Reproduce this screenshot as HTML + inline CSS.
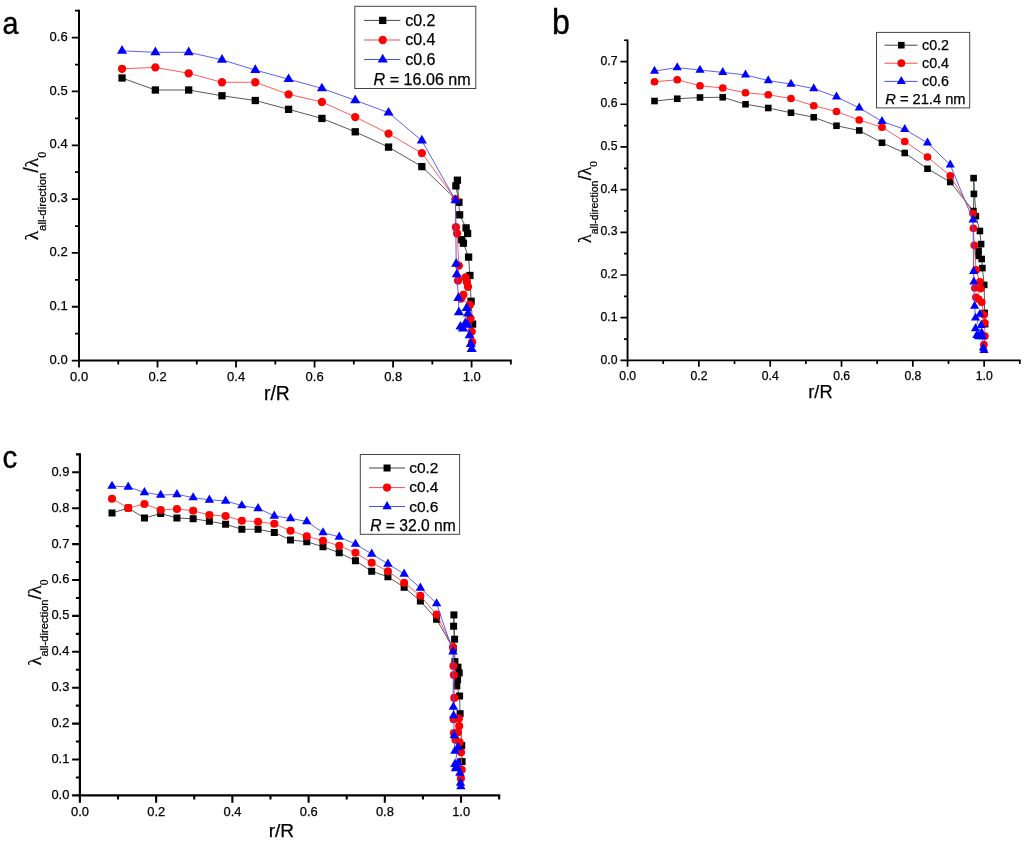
<!DOCTYPE html>
<html lang="en">
<head>
<meta charset="utf-8">
<title>Normalized thermal conductivity versus r/R</title>
<style>
html,body{margin:0;padding:0;background:#fff;}
body{width:1024px;height:843px;overflow:hidden;}
svg{display:block;font-family:"Liberation Sans", Arial, sans-serif;}
</style>
</head>
<body>
<svg width="1024" height="843" viewBox="0 0 1024 843">
<rect width="1024" height="843" fill="#fff"/>
<g id="panel-a">
<polyline fill="none" stroke="#444444" stroke-width="0.9" points="122.05,78 155.36,90 188.67,90 221.98,95.75 255.29,100.5 288.6,109.35 321.91,118.45 355.22,131.8 388.53,147.1 421.84,166.6 458.9,202.3 455.9,185.9 457.4,180.2 459.6,214.8 466.1,227.9 467.6,233.5 461.8,239.7 463.4,243.2 468.6,257.1 469.9,275.5 471.1,301.3 472.6,324.1"/>
<g fill="#000000"><rect x="118.4" y="74.35" width="7.3" height="7.3"/><rect x="151.71" y="86.35" width="7.3" height="7.3"/><rect x="185.02" y="86.35" width="7.3" height="7.3"/><rect x="218.33" y="92.1" width="7.3" height="7.3"/><rect x="251.64" y="96.85" width="7.3" height="7.3"/><rect x="284.95" y="105.7" width="7.3" height="7.3"/><rect x="318.26" y="114.8" width="7.3" height="7.3"/><rect x="351.57" y="128.15" width="7.3" height="7.3"/><rect x="384.88" y="143.45" width="7.3" height="7.3"/><rect x="418.19" y="162.95" width="7.3" height="7.3"/><rect x="455.25" y="198.65" width="7.3" height="7.3"/><rect x="452.25" y="182.25" width="7.3" height="7.3"/><rect x="453.75" y="176.55" width="7.3" height="7.3"/><rect x="455.95" y="211.15" width="7.3" height="7.3"/><rect x="462.45" y="224.25" width="7.3" height="7.3"/><rect x="463.95" y="229.85" width="7.3" height="7.3"/><rect x="458.15" y="236.05" width="7.3" height="7.3"/><rect x="459.75" y="239.55" width="7.3" height="7.3"/><rect x="464.95" y="253.45" width="7.3" height="7.3"/><rect x="466.25" y="271.85" width="7.3" height="7.3"/><rect x="467.45" y="297.65" width="7.3" height="7.3"/><rect x="468.95" y="320.45" width="7.3" height="7.3"/></g>
<polyline fill="none" stroke="#ff4848" stroke-width="0.9" points="122.05,68.8 155.36,67.4 188.67,73.3 221.98,82.25 255.29,82.25 288.6,94.35 321.91,101.95 355.22,117.05 388.53,133.6 421.84,153.1 455.5,199.2 455.9,227.2 457.1,233.5 458.9,265.6 458,280.5 465.5,277.4 466.7,281.8 468,286.8 463.4,294.8 461,298.6 469.9,304.8 470.5,318.5 471.7,331.6 472.1,342.2"/>
<g fill="#ff0000"><circle cx="122.05" cy="68.8" r="4.15"/><circle cx="155.36" cy="67.4" r="4.15"/><circle cx="188.67" cy="73.3" r="4.15"/><circle cx="221.98" cy="82.25" r="4.15"/><circle cx="255.29" cy="82.25" r="4.15"/><circle cx="288.6" cy="94.35" r="4.15"/><circle cx="321.91" cy="101.95" r="4.15"/><circle cx="355.22" cy="117.05" r="4.15"/><circle cx="388.53" cy="133.6" r="4.15"/><circle cx="421.84" cy="153.1" r="4.15"/><circle cx="455.5" cy="199.2" r="4.15"/><circle cx="455.9" cy="227.2" r="4.15"/><circle cx="457.1" cy="233.5" r="4.15"/><circle cx="458.9" cy="265.6" r="4.15"/><circle cx="458" cy="280.5" r="4.15"/><circle cx="465.5" cy="277.4" r="4.15"/><circle cx="466.7" cy="281.8" r="4.15"/><circle cx="468" cy="286.8" r="4.15"/><circle cx="463.4" cy="294.8" r="4.15"/><circle cx="461" cy="298.6" r="4.15"/><circle cx="469.9" cy="304.8" r="4.15"/><circle cx="470.5" cy="318.5" r="4.15"/><circle cx="471.7" cy="331.6" r="4.15"/><circle cx="472.1" cy="342.2" r="4.15"/></g>
<polyline fill="none" stroke="#4c4cff" stroke-width="0.9" points="122.05,50.85 155.36,52.3 188.67,52.3 221.98,59.8 255.29,70.05 288.6,79.2 321.91,88.4 355.22,100.3 388.53,112.7 421.84,140.6 455.5,200.3 456.2,263.8 456.8,274.4 458.4,298 458.9,312.4 466.7,308 468,313.7 460.5,326.7 463,328.6 465.5,323.6 467.4,324.8 469.6,335.4 470.8,344.1 471.7,349.1"/>
<g fill="#0000ff"><polygon points="122.05,45.1 127.1,53.75 117,53.75"/><polygon points="155.36,46.55 160.41,55.2 150.31,55.2"/><polygon points="188.67,46.55 193.72,55.2 183.62,55.2"/><polygon points="221.98,54.05 227.03,62.7 216.93,62.7"/><polygon points="255.29,64.3 260.34,72.95 250.24,72.95"/><polygon points="288.6,73.45 293.65,82.1 283.55,82.1"/><polygon points="321.91,82.65 326.96,91.3 316.86,91.3"/><polygon points="355.22,94.55 360.27,103.2 350.17,103.2"/><polygon points="388.53,106.95 393.58,115.6 383.48,115.6"/><polygon points="421.84,134.85 426.89,143.5 416.79,143.5"/><polygon points="455.5,194.55 460.55,203.2 450.45,203.2"/><polygon points="456.2,258.05 461.25,266.7 451.15,266.7"/><polygon points="456.8,268.65 461.85,277.3 451.75,277.3"/><polygon points="458.4,292.25 463.45,300.9 453.35,300.9"/><polygon points="458.9,306.65 463.95,315.3 453.85,315.3"/><polygon points="466.7,302.25 471.75,310.9 461.65,310.9"/><polygon points="468,307.95 473.05,316.6 462.95,316.6"/><polygon points="460.5,320.95 465.55,329.6 455.45,329.6"/><polygon points="463,322.85 468.05,331.5 457.95,331.5"/><polygon points="465.5,317.85 470.55,326.5 460.45,326.5"/><polygon points="467.4,319.05 472.45,327.7 462.35,327.7"/><polygon points="469.6,329.65 474.65,338.3 464.55,338.3"/><polygon points="470.8,338.35 475.85,347 465.75,347"/><polygon points="471.7,343.35 476.75,352 466.65,352"/></g>
<g stroke="#000" fill="none" stroke-linecap="butt">
<path stroke-width="2" d="M79 9.81 V360.6 H511.76"/>
<path stroke-width="1.8" d="M79 360.6h-7.2M79 333.69h-4M79 306.77h-7.2M79 279.86h-4M79 252.94h-7.2M79 226.03h-4M79 199.11h-7.2M79 172.2h-4M79 145.28h-7.2M79 118.37h-4M79 91.45h-7.2M79 64.54h-4M79 37.62h-7.2M79 10.71h-4M79 360.6v7M118.26 360.6v4M157.52 360.6v7M196.78 360.6v4M236.04 360.6v7M275.3 360.6v4M314.56 360.6v7M353.82 360.6v4M393.08 360.6v7M432.34 360.6v4M471.6 360.6v7M510.86 360.6v4"/>
</g>
<g font-size="13" fill="#000" stroke="#000" stroke-width="0.25">
<text x="67.7" y="363.7" text-anchor="end">0.0</text>
<text x="67.7" y="309.87" text-anchor="end">0.1</text>
<text x="67.7" y="256.04" text-anchor="end">0.2</text>
<text x="67.7" y="202.21" text-anchor="end">0.3</text>
<text x="67.7" y="148.38" text-anchor="end">0.4</text>
<text x="67.7" y="94.55" text-anchor="end">0.5</text>
<text x="67.7" y="40.72" text-anchor="end">0.6</text>
<text x="79.1" y="381.3" text-anchor="middle">0.0</text>
<text x="157.62" y="381.3" text-anchor="middle">0.2</text>
<text x="236.14" y="381.3" text-anchor="middle">0.4</text>
<text x="314.66" y="381.3" text-anchor="middle">0.6</text>
<text x="393.18" y="381.3" text-anchor="middle">0.8</text>
<text x="471.7" y="381.3" text-anchor="middle">1.0</text>
</g>
<text x="264.1" y="400" font-size="19.3" fill="#000" stroke="#000" stroke-width="0.25">r/R</text>
<text transform="translate(38.3 240.3) rotate(-90)" font-size="19.4" fill="#000" stroke="#000" stroke-width="0.25"><tspan font-family='"Liberation Serif", "Times New Roman", serif'>λ</tspan><tspan font-size="11.4" dy="7.9">all-direction</tspan><tspan font-size="19.4" dy="-7.9">/</tspan><tspan font-family='"Liberation Serif", "Times New Roman", serif'>λ</tspan><tspan font-family='"Liberation Serif", "Times New Roman", serif' font-size="12.2" dy="7.2">0</tspan></text>
<rect x="354.8" y="6.3" width="121" height="82.2" fill="#fff" stroke="#444" stroke-width="1"/>
<line x1="364" y1="20.4" x2="400.3" y2="20.4" stroke="#444444" stroke-width="1"/>
<g fill="#000000"><rect x="379.05" y="16.75" width="7.3" height="7.3"/></g>
<text x="405.2" y="25.9" font-size="16" fill="#000" stroke="#000" stroke-width="0.25">c0.2</text>
<line x1="364" y1="40" x2="400.3" y2="40" stroke="#ff4848" stroke-width="1"/>
<g fill="#ff0000"><circle cx="382.7" cy="40" r="4.15"/></g>
<text x="405.2" y="45.4" font-size="16" fill="#000" stroke="#000" stroke-width="0.25">c0.4</text>
<line x1="364" y1="59.5" x2="400.3" y2="59.5" stroke="#4c4cff" stroke-width="1"/>
<g fill="#0000ff"><polygon points="382.7,53.75 387.75,62.4 377.65,62.4"/></g>
<text x="405.2" y="65.1" font-size="16" fill="#000" stroke="#000" stroke-width="0.25">c0.6</text>
<text x="373.6" y="85.2" font-size="16.1" fill="#000" stroke="#000" stroke-width="0.25"><tspan font-style="italic">R</tspan> = 16.06 nm</text>
<text transform="translate(2.6 33.7) scale(0.91 1)" font-size="31.5" fill="#000" stroke="#000" stroke-width="0.4">a</text>
</g>
<g id="panel-b">
<polyline fill="none" stroke="#444444" stroke-width="0.9" points="654.5,101 677.25,98.75 700,97.5 722.75,97.25 745.5,104.25 768.25,108 791,112.75 813.75,117.25 836.5,125.75 859.25,130.5 882,142.75 904.75,153 927.5,168.75 950.25,182 973.4,211.1 973.9,193.9 973.6,178.1 975.9,216.1 979.9,231 981.1,244.1 978.6,250.9 978.4,255.9 981.7,259 982.4,268.1 984.2,284.9 984.6,312.9 985.1,324.1"/>
<g fill="#000000"><rect x="651.2" y="97.7" width="6.6" height="6.6"/><rect x="673.95" y="95.45" width="6.6" height="6.6"/><rect x="696.7" y="94.2" width="6.6" height="6.6"/><rect x="719.45" y="93.95" width="6.6" height="6.6"/><rect x="742.2" y="100.95" width="6.6" height="6.6"/><rect x="764.95" y="104.7" width="6.6" height="6.6"/><rect x="787.7" y="109.45" width="6.6" height="6.6"/><rect x="810.45" y="113.95" width="6.6" height="6.6"/><rect x="833.2" y="122.45" width="6.6" height="6.6"/><rect x="855.95" y="127.2" width="6.6" height="6.6"/><rect x="878.7" y="139.45" width="6.6" height="6.6"/><rect x="901.45" y="149.7" width="6.6" height="6.6"/><rect x="924.2" y="165.45" width="6.6" height="6.6"/><rect x="946.95" y="178.7" width="6.6" height="6.6"/><rect x="970.1" y="207.8" width="6.6" height="6.6"/><rect x="970.6" y="190.6" width="6.6" height="6.6"/><rect x="970.3" y="174.8" width="6.6" height="6.6"/><rect x="972.6" y="212.8" width="6.6" height="6.6"/><rect x="976.6" y="227.7" width="6.6" height="6.6"/><rect x="977.8" y="240.8" width="6.6" height="6.6"/><rect x="975.3" y="247.6" width="6.6" height="6.6"/><rect x="975.1" y="252.6" width="6.6" height="6.6"/><rect x="978.4" y="255.7" width="6.6" height="6.6"/><rect x="979.1" y="264.8" width="6.6" height="6.6"/><rect x="980.9" y="281.6" width="6.6" height="6.6"/><rect x="981.3" y="309.6" width="6.6" height="6.6"/><rect x="981.8" y="320.8" width="6.6" height="6.6"/></g>
<polyline fill="none" stroke="#ff4848" stroke-width="0.9" points="654.5,81.75 677.25,79.75 700,85.75 722.75,88 745.5,92.75 768.25,94.75 791,98.5 813.75,105.75 836.5,111.5 859.25,120 882,127.25 904.75,141.5 927.5,157 950.25,175.75 973,213.6 973.4,228.3 974.3,245.3 976.1,269.9 979.9,281.8 974.9,288 980.9,288.6 975.9,297.3 978.6,299.2 981.7,302.3 983.9,314.8 984.6,322.9 984.9,336 983.9,344.7"/>
<g fill="#ff0000"><circle cx="654.5" cy="81.75" r="3.85"/><circle cx="677.25" cy="79.75" r="3.85"/><circle cx="700" cy="85.75" r="3.85"/><circle cx="722.75" cy="88" r="3.85"/><circle cx="745.5" cy="92.75" r="3.85"/><circle cx="768.25" cy="94.75" r="3.85"/><circle cx="791" cy="98.5" r="3.85"/><circle cx="813.75" cy="105.75" r="3.85"/><circle cx="836.5" cy="111.5" r="3.85"/><circle cx="859.25" cy="120" r="3.85"/><circle cx="882" cy="127.25" r="3.85"/><circle cx="904.75" cy="141.5" r="3.85"/><circle cx="927.5" cy="157" r="3.85"/><circle cx="950.25" cy="175.75" r="3.85"/><circle cx="973" cy="213.6" r="3.85"/><circle cx="973.4" cy="228.3" r="3.85"/><circle cx="974.3" cy="245.3" r="3.85"/><circle cx="976.1" cy="269.9" r="3.85"/><circle cx="979.9" cy="281.8" r="3.85"/><circle cx="974.9" cy="288" r="3.85"/><circle cx="980.9" cy="288.6" r="3.85"/><circle cx="975.9" cy="297.3" r="3.85"/><circle cx="978.6" cy="299.2" r="3.85"/><circle cx="981.7" cy="302.3" r="3.85"/><circle cx="983.9" cy="314.8" r="3.85"/><circle cx="984.6" cy="322.9" r="3.85"/><circle cx="984.9" cy="336" r="3.85"/><circle cx="983.9" cy="344.7" r="3.85"/></g>
<polyline fill="none" stroke="#4c4cff" stroke-width="0.9" points="654.5,71.1 677.25,67.6 700,70.1 722.75,72.4 745.5,74.9 768.25,80.6 791,84.1 813.75,88.6 836.5,96.9 859.25,107.9 882,121.4 904.75,129.4 927.5,142.9 950.25,164.9 973,219.9 973.6,271.3 973.9,281.9 974.6,306.1 975.5,318 979.9,314.2 975.5,328.6 981.1,325.4 976.8,335.4 978.6,336.7 981.7,332.9 982.4,336.7 983.3,348 984,350.4"/>
<g fill="#0000ff"><polygon points="654.5,65.8 659.05,73.7 649.95,73.7"/><polygon points="677.25,62.3 681.8,70.2 672.7,70.2"/><polygon points="700,64.8 704.55,72.7 695.45,72.7"/><polygon points="722.75,67.1 727.3,75 718.2,75"/><polygon points="745.5,69.6 750.05,77.5 740.95,77.5"/><polygon points="768.25,75.3 772.8,83.2 763.7,83.2"/><polygon points="791,78.8 795.55,86.7 786.45,86.7"/><polygon points="813.75,83.3 818.3,91.2 809.2,91.2"/><polygon points="836.5,91.6 841.05,99.5 831.95,99.5"/><polygon points="859.25,102.6 863.8,110.5 854.7,110.5"/><polygon points="882,116.1 886.55,124 877.45,124"/><polygon points="904.75,124.1 909.3,132 900.2,132"/><polygon points="927.5,137.6 932.05,145.5 922.95,145.5"/><polygon points="950.25,159.6 954.8,167.5 945.7,167.5"/><polygon points="973,214.6 977.55,222.5 968.45,222.5"/><polygon points="973.6,266 978.15,273.9 969.05,273.9"/><polygon points="973.9,276.6 978.45,284.5 969.35,284.5"/><polygon points="974.6,300.8 979.15,308.7 970.05,308.7"/><polygon points="975.5,312.7 980.05,320.6 970.95,320.6"/><polygon points="979.9,308.9 984.45,316.8 975.35,316.8"/><polygon points="975.5,323.3 980.05,331.2 970.95,331.2"/><polygon points="981.1,320.1 985.65,328 976.55,328"/><polygon points="976.8,330.1 981.35,338 972.25,338"/><polygon points="978.6,331.4 983.15,339.3 974.05,339.3"/><polygon points="981.7,327.6 986.25,335.5 977.15,335.5"/><polygon points="982.4,331.4 986.95,339.3 977.85,339.3"/><polygon points="983.3,342.7 987.85,350.6 978.75,350.6"/><polygon points="984,345.1 988.55,353 979.45,353"/></g>
<g stroke="#000" fill="none" stroke-linecap="butt">
<path stroke-width="1.9" d="M627.55 39.38 V360.4 H1020.66"/>
<path stroke-width="1.7" d="M627.55 360.4h-7.1M627.55 339.05h-3.6M627.55 317.71h-7.1M627.55 296.36h-3.6M627.55 275.02h-7.1M627.55 253.67h-3.6M627.55 232.33h-7.1M627.55 210.98h-3.6M627.55 189.64h-7.1M627.55 168.29h-3.6M627.55 146.95h-7.1M627.55 125.6h-3.6M627.55 104.26h-7.1M627.55 82.91h-3.6M627.55 61.57h-7.1M627.55 40.23h-3.6M627.55 360.4v6.4M663.21 360.4v3.6M698.87 360.4v6.4M734.53 360.4v3.6M770.19 360.4v6.4M805.85 360.4v3.6M841.51 360.4v6.4M877.17 360.4v3.6M912.83 360.4v6.4M948.49 360.4v3.6M984.15 360.4v6.4M1019.81 360.4v3.6"/>
</g>
<g font-size="12.2" fill="#000" stroke="#000" stroke-width="0.25">
<text x="617.55" y="363.5" text-anchor="end">0.0</text>
<text x="617.55" y="320.81" text-anchor="end">0.1</text>
<text x="617.55" y="278.12" text-anchor="end">0.2</text>
<text x="617.55" y="235.43" text-anchor="end">0.3</text>
<text x="617.55" y="192.74" text-anchor="end">0.4</text>
<text x="617.55" y="150.05" text-anchor="end">0.5</text>
<text x="617.55" y="107.36" text-anchor="end">0.6</text>
<text x="617.55" y="64.67" text-anchor="end">0.7</text>
<text x="627.65" y="379.9" text-anchor="middle">0.0</text>
<text x="698.97" y="379.9" text-anchor="middle">0.2</text>
<text x="770.29" y="379.9" text-anchor="middle">0.4</text>
<text x="841.61" y="379.9" text-anchor="middle">0.6</text>
<text x="912.93" y="379.9" text-anchor="middle">0.8</text>
<text x="984.25" y="379.9" text-anchor="middle">1.0</text>
</g>
<text x="808.3" y="397.7" font-size="18.2" fill="#000" stroke="#000" stroke-width="0.25">r/R</text>
<text transform="translate(590.7 243) rotate(-90)" font-size="18" fill="#000" stroke="#000" stroke-width="0.25"><tspan font-family='"Liberation Serif", "Times New Roman", serif'>λ</tspan><tspan font-size="10.5" dy="7">all-direction</tspan><tspan font-size="18" dy="-7">/</tspan><tspan font-family='"Liberation Serif", "Times New Roman", serif'>λ</tspan><tspan font-family='"Liberation Serif", "Times New Roman", serif' font-size="11.3" dy="6.5">0</tspan></text>
<rect x="876.5" y="32.4" width="93.2" height="75.5" fill="#fff" stroke="#444" stroke-width="1"/>
<line x1="884.5" y1="45.2" x2="917.6" y2="45.2" stroke="#444444" stroke-width="1"/>
<g fill="#000000"><rect x="898" y="41.9" width="6.6" height="6.6"/></g>
<text x="922" y="49.7" font-size="14.3" fill="#000" stroke="#000" stroke-width="0.25">c0.2</text>
<line x1="884.5" y1="63.2" x2="917.6" y2="63.2" stroke="#ff4848" stroke-width="1"/>
<g fill="#ff0000"><circle cx="901.3" cy="63.2" r="3.85"/></g>
<text x="922" y="67.5" font-size="14.3" fill="#000" stroke="#000" stroke-width="0.25">c0.4</text>
<line x1="884.5" y1="81.4" x2="917.6" y2="81.4" stroke="#4c4cff" stroke-width="1"/>
<g fill="#0000ff"><polygon points="901.3,76.1 905.85,84 896.75,84"/></g>
<text x="922" y="85.8" font-size="14.3" fill="#000" stroke="#000" stroke-width="0.25">c0.6</text>
<text x="885.2" y="103.9" font-size="14.7" fill="#000" stroke="#000" stroke-width="0.25"><tspan font-style="italic">R</tspan> = 21.4 nm</text>
<text transform="translate(551.9 33.7) scale(0.94 1)" font-size="34.2" fill="#000" stroke="#000" stroke-width="0.4">b</text>
</g>
<g id="panel-c">
<polyline fill="none" stroke="#444444" stroke-width="0.9" points="112,513 128.23,508 144.46,518 160.69,513.5 176.92,518 193.15,518.75 209.38,521.25 225.61,524.25 241.84,529.25 258.07,529.25 274.3,532.5 290.53,540 306.76,541.75 322.99,546.75 339.22,552.75 355.45,560.75 371.68,571.25 387.91,576.75 404.14,587.25 420.37,601 436.6,619.25 453.3,648.6 454.6,639.2 453.6,626.2 453.9,614.9 454.9,661.6 458,667.2 459.2,672.9 457.6,679.7 456.8,685.9 459.6,696 460.1,713.7 461.7,745.4 462.1,761.6"/>
<g fill="#000000"><rect x="108.5" y="509.5" width="7" height="7"/><rect x="124.73" y="504.5" width="7" height="7"/><rect x="140.96" y="514.5" width="7" height="7"/><rect x="157.19" y="510" width="7" height="7"/><rect x="173.42" y="514.5" width="7" height="7"/><rect x="189.65" y="515.25" width="7" height="7"/><rect x="205.88" y="517.75" width="7" height="7"/><rect x="222.11" y="520.75" width="7" height="7"/><rect x="238.34" y="525.75" width="7" height="7"/><rect x="254.57" y="525.75" width="7" height="7"/><rect x="270.8" y="529" width="7" height="7"/><rect x="287.03" y="536.5" width="7" height="7"/><rect x="303.26" y="538.25" width="7" height="7"/><rect x="319.49" y="543.25" width="7" height="7"/><rect x="335.72" y="549.25" width="7" height="7"/><rect x="351.95" y="557.25" width="7" height="7"/><rect x="368.18" y="567.75" width="7" height="7"/><rect x="384.41" y="573.25" width="7" height="7"/><rect x="400.64" y="583.75" width="7" height="7"/><rect x="416.87" y="597.5" width="7" height="7"/><rect x="433.1" y="615.75" width="7" height="7"/><rect x="449.8" y="645.1" width="7" height="7"/><rect x="451.1" y="635.7" width="7" height="7"/><rect x="450.1" y="622.7" width="7" height="7"/><rect x="450.4" y="611.4" width="7" height="7"/><rect x="451.4" y="658.1" width="7" height="7"/><rect x="454.5" y="663.7" width="7" height="7"/><rect x="455.7" y="669.4" width="7" height="7"/><rect x="454.1" y="676.2" width="7" height="7"/><rect x="453.3" y="682.4" width="7" height="7"/><rect x="456.1" y="692.5" width="7" height="7"/><rect x="456.6" y="710.2" width="7" height="7"/><rect x="458.2" y="741.9" width="7" height="7"/><rect x="458.6" y="758.1" width="7" height="7"/></g>
<polyline fill="none" stroke="#ff4848" stroke-width="0.9" points="112,498.75 128.23,508 144.46,504 160.69,510 176.92,509 193.15,510.75 209.38,515 225.61,516 241.84,520.75 258.07,521.75 274.3,523.75 290.53,530.75 306.76,536.25 322.99,540.75 339.22,545.75 355.45,552.75 371.68,562.75 387.91,571.25 404.14,582.75 420.37,595.75 436.6,614.5 453,647.1 453.4,666 453.9,675.1 454.3,697.9 453.6,719.3 458.9,718.6 459.2,726.1 453.9,733 458,732.3 455.5,739.8 459.6,742.3 461.1,752.3 461.7,769.7 460.9,778.4"/>
<g fill="#ff0000"><circle cx="112" cy="498.75" r="4.05"/><circle cx="128.23" cy="508" r="4.05"/><circle cx="144.46" cy="504" r="4.05"/><circle cx="160.69" cy="510" r="4.05"/><circle cx="176.92" cy="509" r="4.05"/><circle cx="193.15" cy="510.75" r="4.05"/><circle cx="209.38" cy="515" r="4.05"/><circle cx="225.61" cy="516" r="4.05"/><circle cx="241.84" cy="520.75" r="4.05"/><circle cx="258.07" cy="521.75" r="4.05"/><circle cx="274.3" cy="523.75" r="4.05"/><circle cx="290.53" cy="530.75" r="4.05"/><circle cx="306.76" cy="536.25" r="4.05"/><circle cx="322.99" cy="540.75" r="4.05"/><circle cx="339.22" cy="545.75" r="4.05"/><circle cx="355.45" cy="552.75" r="4.05"/><circle cx="371.68" cy="562.75" r="4.05"/><circle cx="387.91" cy="571.25" r="4.05"/><circle cx="404.14" cy="582.75" r="4.05"/><circle cx="420.37" cy="595.75" r="4.05"/><circle cx="436.6" cy="614.5" r="4.05"/><circle cx="453" cy="647.1" r="4.05"/><circle cx="453.4" cy="666" r="4.05"/><circle cx="453.9" cy="675.1" r="4.05"/><circle cx="454.3" cy="697.9" r="4.05"/><circle cx="453.6" cy="719.3" r="4.05"/><circle cx="458.9" cy="718.6" r="4.05"/><circle cx="459.2" cy="726.1" r="4.05"/><circle cx="453.9" cy="733" r="4.05"/><circle cx="458" cy="732.3" r="4.05"/><circle cx="455.5" cy="739.8" r="4.05"/><circle cx="459.6" cy="742.3" r="4.05"/><circle cx="461.1" cy="752.3" r="4.05"/><circle cx="461.7" cy="769.7" r="4.05"/><circle cx="460.9" cy="778.4" r="4.05"/></g>
<polyline fill="none" stroke="#4c4cff" stroke-width="0.9" points="112,486.1 128.23,486.9 144.46,492.4 160.69,495.1 176.92,494.4 193.15,497.6 209.38,499.9 225.61,500.9 241.84,505.6 258.07,508.4 274.3,515.9 290.53,518.4 306.76,521.4 322.99,532.6 339.22,536.9 355.45,544.1 371.68,553.9 387.91,563.9 404.14,573.9 420.37,587.9 436.6,603.6 453,651.8 453.4,706.9 453.6,715.6 454.3,735.5 454.9,751.1 458,747.4 454.9,764.2 458,762.9 455.5,768.5 456.8,766.5 459.9,772.9 460.5,782.9 460.9,786.6"/>
<g fill="#0000ff"><polygon points="112,480.65 116.7,488.85 107.3,488.85"/><polygon points="128.23,481.45 132.93,489.65 123.53,489.65"/><polygon points="144.46,486.95 149.16,495.15 139.76,495.15"/><polygon points="160.69,489.65 165.39,497.85 155.99,497.85"/><polygon points="176.92,488.95 181.62,497.15 172.22,497.15"/><polygon points="193.15,492.15 197.85,500.35 188.45,500.35"/><polygon points="209.38,494.45 214.08,502.65 204.68,502.65"/><polygon points="225.61,495.45 230.31,503.65 220.91,503.65"/><polygon points="241.84,500.15 246.54,508.35 237.14,508.35"/><polygon points="258.07,502.95 262.77,511.15 253.37,511.15"/><polygon points="274.3,510.45 279,518.65 269.6,518.65"/><polygon points="290.53,512.95 295.23,521.15 285.83,521.15"/><polygon points="306.76,515.95 311.46,524.15 302.06,524.15"/><polygon points="322.99,527.15 327.69,535.35 318.29,535.35"/><polygon points="339.22,531.45 343.92,539.65 334.52,539.65"/><polygon points="355.45,538.65 360.15,546.85 350.75,546.85"/><polygon points="371.68,548.45 376.38,556.65 366.98,556.65"/><polygon points="387.91,558.45 392.61,566.65 383.21,566.65"/><polygon points="404.14,568.45 408.84,576.65 399.44,576.65"/><polygon points="420.37,582.45 425.07,590.65 415.67,590.65"/><polygon points="436.6,598.15 441.3,606.35 431.9,606.35"/><polygon points="453,646.35 457.7,654.55 448.3,654.55"/><polygon points="453.4,701.45 458.1,709.65 448.7,709.65"/><polygon points="453.6,710.15 458.3,718.35 448.9,718.35"/><polygon points="454.3,730.05 459,738.25 449.6,738.25"/><polygon points="454.9,745.65 459.6,753.85 450.2,753.85"/><polygon points="458,741.95 462.7,750.15 453.3,750.15"/><polygon points="454.9,758.75 459.6,766.95 450.2,766.95"/><polygon points="458,757.45 462.7,765.65 453.3,765.65"/><polygon points="455.5,763.05 460.2,771.25 450.8,771.25"/><polygon points="456.8,761.05 461.5,769.25 452.1,769.25"/><polygon points="459.9,767.45 464.6,775.65 455.2,775.65"/><polygon points="460.5,777.45 465.2,785.65 455.8,785.65"/><polygon points="460.9,781.15 465.6,789.35 456.2,789.35"/></g>
<g stroke="#000" fill="none" stroke-linecap="butt">
<path stroke-width="2.2" d="M79.9 453.3 V795.4 H500.21"/>
<path stroke-width="2.1" d="M79.9 795.4h-7.8M79.9 777.45h-4M79.9 759.5h-7.8M79.9 741.55h-4M79.9 723.6h-7.8M79.9 705.65h-4M79.9 687.7h-7.8M79.9 669.75h-4M79.9 651.8h-7.8M79.9 633.85h-4M79.9 615.9h-7.8M79.9 597.95h-4M79.9 580h-7.8M79.9 562.05h-4M79.9 544.1h-7.8M79.9 526.15h-4M79.9 508.2h-7.8M79.9 490.25h-4M79.9 472.3h-7.8M79.9 454.35h-4M79.9 795.4v7.3M118.02 795.4v4M156.13 795.4v7.3M194.25 795.4v4M232.36 795.4v7.3M270.48 795.4v4M308.59 795.4v7.3M346.71 795.4v4M384.82 795.4v7.3M422.93 795.4v4M461.05 795.4v7.3M499.16 795.4v4"/>
</g>
<g font-size="12.9" fill="#000" stroke="#000" stroke-width="0.25">
<text x="69.3" y="798.8" text-anchor="end">0.0</text>
<text x="69.3" y="762.9" text-anchor="end">0.1</text>
<text x="69.3" y="727" text-anchor="end">0.2</text>
<text x="69.3" y="691.1" text-anchor="end">0.3</text>
<text x="69.3" y="655.2" text-anchor="end">0.4</text>
<text x="69.3" y="619.3" text-anchor="end">0.5</text>
<text x="69.3" y="583.4" text-anchor="end">0.6</text>
<text x="69.3" y="547.5" text-anchor="end">0.7</text>
<text x="69.3" y="511.6" text-anchor="end">0.8</text>
<text x="69.3" y="475.7" text-anchor="end">0.9</text>
<text x="80" y="815.5" text-anchor="middle">0.0</text>
<text x="156.23" y="815.5" text-anchor="middle">0.2</text>
<text x="232.46" y="815.5" text-anchor="middle">0.4</text>
<text x="308.69" y="815.5" text-anchor="middle">0.6</text>
<text x="384.92" y="815.5" text-anchor="middle">0.8</text>
<text x="461.15" y="815.5" text-anchor="middle">1.0</text>
</g>
<text x="268.7" y="836.6" font-size="19.1" fill="#000" stroke="#000" stroke-width="0.25">r/R</text>
<text transform="translate(40.8 665.6) rotate(-90)" font-size="18.5" fill="#000" stroke="#000" stroke-width="0.25"><tspan font-family='"Liberation Serif", "Times New Roman", serif'>λ</tspan><tspan font-size="11.2" dy="7.5">all-direction</tspan><tspan font-size="18.5" dy="-7.5">/</tspan><tspan font-family='"Liberation Serif", "Times New Roman", serif'>λ</tspan><tspan font-family='"Liberation Serif", "Times New Roman", serif' font-size="11.5" dy="6.8">0</tspan></text>
<rect x="360.3" y="454.5" width="99.3" height="79.8" fill="#fff" stroke="#444" stroke-width="1"/>
<line x1="369" y1="468" x2="405" y2="468" stroke="#444444" stroke-width="1"/>
<g fill="#000000"><rect x="383.55" y="464.5" width="7" height="7"/></g>
<text x="409.2" y="473" font-size="15.5" fill="#000" stroke="#000" stroke-width="0.25">c0.2</text>
<line x1="369" y1="487.6" x2="405" y2="487.6" stroke="#ff4848" stroke-width="1"/>
<g fill="#ff0000"><circle cx="387.05" cy="487.6" r="4.05"/></g>
<text x="409.2" y="492.45" font-size="15.5" fill="#000" stroke="#000" stroke-width="0.25">c0.4</text>
<line x1="369" y1="506.5" x2="405" y2="506.5" stroke="#4c4cff" stroke-width="1"/>
<g fill="#0000ff"><polygon points="387.05,501.05 391.75,509.25 382.35,509.25"/></g>
<text x="409.2" y="511.8" font-size="15.5" fill="#000" stroke="#000" stroke-width="0.25">c0.6</text>
<text x="370.2" y="530.5" font-size="15.65" fill="#000" stroke="#000" stroke-width="0.25"><tspan font-style="italic">R</tspan> = 32.0 nm</text>
<text transform="translate(2.4 468) scale(0.92 1)" font-size="32" fill="#000" stroke="#000" stroke-width="0.4">c</text>
</g>
</svg>
</body>
</html>
